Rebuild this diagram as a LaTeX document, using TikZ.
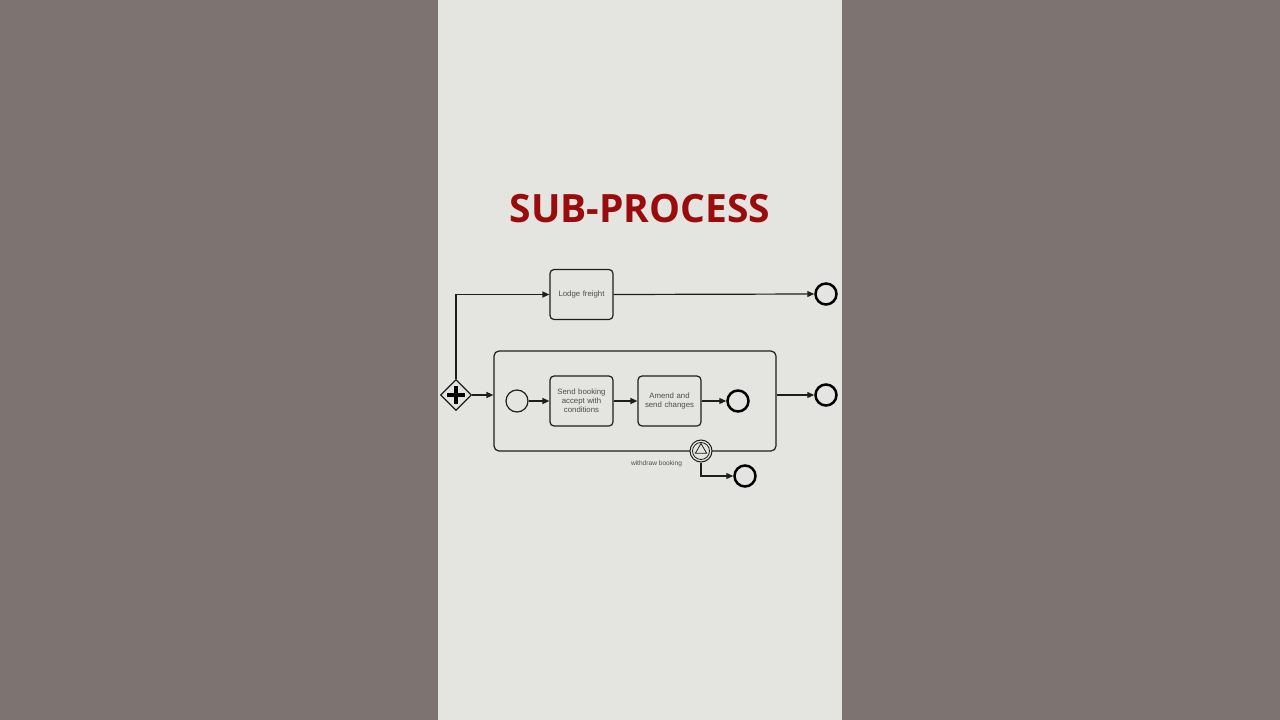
\documentclass[tikz,border=0pt]{standalone}
\usepackage{fontspec}
\setmainfont{Liberation Sans}
\newfontfamily\titlefont{Open Sans}
\usetikzlibrary{shapes,arrows.meta,positioning,calc}

\definecolor{framegray}{HTML}{7D7472}
\definecolor{panelgray}{HTML}{E4E4E0}
\definecolor{titlered}{HTML}{9A0B0B}
\definecolor{inkgray}{HTML}{1E1E1E}

\tikzset{
  task/.style={draw=inkgray, line width=1.2pt, rounded corners=4pt, minimum width=63pt, minimum height=50pt, text width=58pt, align=center, inner sep=0pt, font=\fontsize{7.8}{9.2}\selectfont, text=black!70},
  startev/.style={circle, draw=inkgray, line width=1.2pt, minimum size=22pt, inner sep=0pt, fill=panelgray},
  endev/.style={circle, draw=black, line width=2.5pt, minimum size=21pt, inner sep=0pt},
  flow/.style={draw=inkgray, line width=1.2pt, -{Triangle[length=7pt,width=6pt]}},
}

\begin{document}
\begin{tikzpicture}[x=1pt,y=-1pt]
    \useasboundingbox (0,0) rectangle (1280,720);
    \fill[framegray] (0,0) rectangle (1280,720);
    \fill[panelgray] (438,0) rectangle (842,720);

    % Title
    \node[font=\titlefont\bfseries\fontsize{39}{40}\selectfont, text=titlered] (title) at (640,209) {SUB-PROCESS};

    % Gateway
    \node[diamond, draw=inkgray, line width=1.2pt, minimum size=31pt, inner sep=0pt, fill=panelgray] (gate) at (456,395) {};
    \draw[line width=3.6pt] (gate.center) ++(-9,0) -- ++(18,0);
    \draw[line width=3.6pt] (gate.center) ++(0,-9) -- ++(0,18);

    % Upper branch
    \node[task] (lodge) at (581.5,294.5) {Lodge freight};
    \node[endev] (endA) at (826,294) {};
    \draw[flow] (gate.north) |- (lodge.west);
    \draw[flow] (lodge.east) -- (endA.west);

    % Sub-process
    \node[draw=inkgray, line width=1.2pt, rounded corners=5pt, minimum width=282pt, minimum height=100pt] (sub) at (635,401) {};
    \node[startev] (start) at (517,401) {};
    \node[task] (send) at (581.5,401) {Send booking\\accept with\\conditions};
    \node[task] (amend) at (669.5,401) {Amend and\\send changes};
    \node[endev] (endIn) at (738,401) {};
    \draw[flow] (start) -- (send);
    \draw[flow] (send) -- (amend);
    \draw[flow] (amend) -- (endIn);

    \node[endev] (endB) at (826,395) {};
    \draw[flow] (gate.east) -- (gate.east -| sub.west);
    \draw[flow] (sub.east |- endB) -- (endB.west);

    % Boundary event
    \node[circle, draw=inkgray, line width=1pt, minimum size=22pt, inner sep=0pt, fill=panelgray] (bnd) at (701,451) {};
    \node[circle, draw=inkgray, line width=0.8pt, minimum size=17pt, inner sep=0pt] (bndin) at (bnd) {};
    \node[regular polygon, regular polygon sides=3, draw=inkgray, line width=0.8pt, minimum size=13pt, inner sep=0pt] (bndtri) at ($(bnd)+(0,-1)$) {};
    \node[font=\fontsize{6.6}{8}\selectfont, text=black!70] (bndlabel) at (656.5,463.5) {withdraw booking};
    \node[endev] (endC) at (745,476) {};
    \draw[flow] (bnd.south) |- (endC.west);
\end{tikzpicture}
\end{document}
